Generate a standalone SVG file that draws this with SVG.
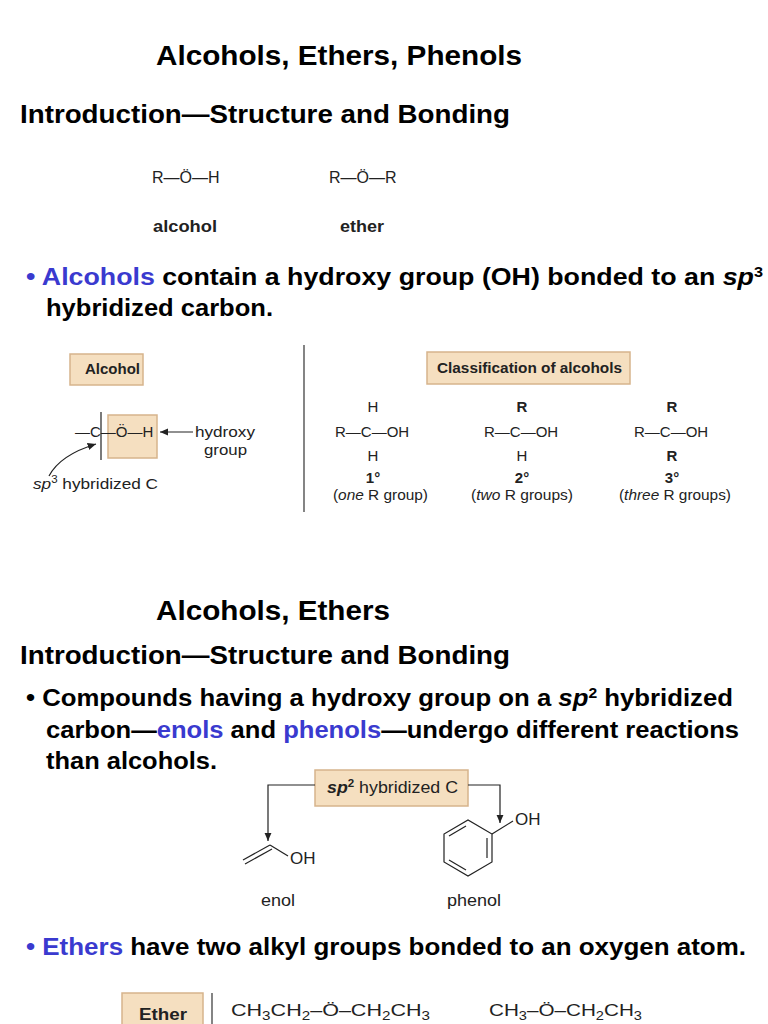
<svg xmlns="http://www.w3.org/2000/svg" width="768" height="1024" viewBox="0 0 768 1024">
<style>
text{font-family:"Liberation Sans",Arial,sans-serif;fill:#000}
.h{font-weight:bold;font-size:25px}
.b{font-weight:bold;font-size:23px}
.bl{fill:#3a3acf}
.s{font-size:16px;fill:#222}
.m{font-size:15px;fill:#222}
.box{fill:#f5dfc0;stroke:#d6b48c;stroke-width:1.5}
.ln{stroke:#222;stroke-width:1.2;fill:none}
</style>
<defs><marker id="ar" markerWidth="8" markerHeight="8" refX="7" refY="4" orient="auto"><path d="M0,1 L7,4 L0,7z" fill="#222"/></marker></defs>
<rect width="768" height="1024" fill="#fff"/>
<text x="156" y="65" textLength="366" lengthAdjust="spacingAndGlyphs" style="font-weight:bold;font-size:28px">Alcohols, Ethers, Phenols</text>
<text x="20" y="123" class="h" textLength="490" lengthAdjust="spacingAndGlyphs">Introduction—Structure and Bonding</text>
<text x="152" y="183" class="s">R—Ö—H</text>
<text x="329" y="183" class="s">R—Ö—R</text>
<text x="153" y="232" textLength="64" lengthAdjust="spacingAndGlyphs" style="font-size:16px;font-weight:bold;fill:#222">alcohol</text>
<text x="340" y="232" textLength="44" lengthAdjust="spacingAndGlyphs" style="font-size:16px;font-weight:bold;fill:#222">ether</text>
<text x="26" y="285" class="b" textLength="737" lengthAdjust="spacingAndGlyphs"><tspan class="bl">• Alcohols</tspan> contain a hydroxy group (OH) bonded to an <tspan font-style="italic">sp</tspan><tspan font-size="14" dy="-8">3</tspan></text>
<text x="46" y="316" class="b" textLength="227" lengthAdjust="spacingAndGlyphs">hybridized carbon.</text>
<g id="alcoholbox"><rect class="box" x="70" y="354" width="73" height="31"/><text x="85" y="374" textLength="55" lengthAdjust="spacingAndGlyphs" style="font-size:15px;font-weight:bold;fill:#222">Alcohol</text></g>
<line x1="304" y1="345" x2="304" y2="512" stroke="#333" stroke-width="1.2"/>
<g id="classbox"><rect class="box" x="427" y="352" width="203" height="32"/><text x="437" y="373" textLength="185" lengthAdjust="spacingAndGlyphs" style="font-size:15px;font-weight:bold;fill:#222">Classification of alcohols</text></g>
<g id="hydroxy">
<rect class="box" x="108" y="415" width="49" height="43"/>
<line class="ln" x1="101" y1="412" x2="101" y2="460"/>
<text x="75" y="437" class="m">—C—Ö—H</text>
<line class="ln" x1="193" y1="432" x2="160" y2="432" marker-end="url(#ar)"/>
<text x="195" y="437" class="m" textLength="60" lengthAdjust="spacingAndGlyphs">hydroxy</text>
<text x="204" y="455" class="m" textLength="43" lengthAdjust="spacingAndGlyphs">group</text>
<path class="ln" d="M49,476 Q60,455 96,444" marker-end="url(#ar)"/>
<text x="33" y="489" class="m" textLength="125" lengthAdjust="spacingAndGlyphs"><tspan font-style="italic">sp</tspan><tspan font-size="10" dy="-6">3</tspan><tspan dy="6"> hybridized C</tspan></text>
</g>
<g id="c1">
<text x="373" y="412" text-anchor="middle" class="m">H</text>
<text x="335" y="437" class="m">R—C—OH</text>
<text x="373" y="461" text-anchor="middle" class="m">H</text>
<text x="373" y="483" text-anchor="middle" class="m" font-weight="bold">1°</text>
<text x="333" y="500" class="m" textLength="95" lengthAdjust="spacingAndGlyphs">(<tspan font-style="italic">one</tspan> R group)</text>
</g>
<g id="c2">
<text x="522" y="412" text-anchor="middle" class="m" font-weight="bold">R</text>
<text x="484" y="437" class="m">R—C—OH</text>
<text x="522" y="461" text-anchor="middle" class="m">H</text>
<text x="522" y="483" text-anchor="middle" class="m" font-weight="bold">2°</text>
<text x="471" y="500" class="m" textLength="102" lengthAdjust="spacingAndGlyphs">(<tspan font-style="italic">two</tspan> R groups)</text>
</g>
<g id="c3">
<text x="672" y="412" text-anchor="middle" class="m" font-weight="bold">R</text>
<text x="634" y="437" class="m">R—C—OH</text>
<text x="672" y="461" text-anchor="middle" class="m" font-weight="bold">R</text>
<text x="672" y="483" text-anchor="middle" class="m" font-weight="bold">3°</text>
<text x="619" y="500" class="m" textLength="112" lengthAdjust="spacingAndGlyphs">(<tspan font-style="italic">three</tspan> R groups)</text>
</g>
<text x="156" y="620" textLength="234" lengthAdjust="spacingAndGlyphs" style="font-weight:bold;font-size:27px">Alcohols, Ethers</text>
<text x="20" y="664" class="h" textLength="490" lengthAdjust="spacingAndGlyphs">Introduction—Structure and Bonding</text>
<text x="26" y="706" class="b" textLength="707" lengthAdjust="spacingAndGlyphs">• Compounds having a hydroxy group on a <tspan font-style="italic">sp</tspan><tspan font-size="14" dy="-8">2</tspan><tspan dy="8"> hybridized</tspan></text>
<text x="46" y="738" class="b" textLength="693" lengthAdjust="spacingAndGlyphs">carbon—<tspan class="bl">enols</tspan> and <tspan class="bl">phenols</tspan>—undergo different reactions</text>
<text x="46" y="769" class="b" textLength="171" lengthAdjust="spacingAndGlyphs">than alcohols.</text>
<g id="sp2box"><rect class="box" x="315" y="770" width="153" height="36"/><text x="327" y="793" textLength="131" lengthAdjust="spacingAndGlyphs" style="font-size:17px;fill:#222"><tspan font-weight="bold" font-style="italic">sp</tspan><tspan font-size="11" dy="-6" font-weight="bold">2</tspan><tspan dy="6"> hybridized C</tspan></text></g>
<g id="connectors">
<path class="ln" d="M315,785 H268 V841" marker-end="url(#ar)"/>
<path class="ln" d="M468,785 H500 V823" marker-end="url(#ar)"/>
</g>
<g id="enol">
<line class="ln" x1="243" y1="860" x2="270" y2="845"/><line class="ln" x1="245" y1="864" x2="272" y2="849"/>
<line class="ln" x1="270" y1="845" x2="288" y2="856"/>
<text x="290" y="864" style="font-size:17px;fill:#222">OH</text>
<text x="261" y="906" class="s" textLength="34" lengthAdjust="spacingAndGlyphs">enol</text>
</g>
<g id="phenol">
<polygon class="ln" points="492,834 492,862 468,876 444,862 444,834 468,820"/>
<line class="ln" x1="487" y1="838" x2="487" y2="858"/><line class="ln" x1="466" y1="870" x2="449" y2="860"/><line class="ln" x1="449" y1="836" x2="466" y2="826"/>
<line class="ln" x1="492" y1="834" x2="513" y2="821"/>
<text x="515" y="825" style="font-size:17px;fill:#222">OH</text>
<text x="447" y="906" class="s" textLength="54" lengthAdjust="spacingAndGlyphs">phenol</text>
</g>
<text x="26" y="955" class="b" textLength="720" lengthAdjust="spacingAndGlyphs"><tspan class="bl">• Ethers</tspan> have two alkyl groups bonded to an oxygen atom.</text>
<g id="etherbox"><rect class="box" x="122" y="993" width="81" height="40"/><text x="139" y="1020" textLength="48" lengthAdjust="spacingAndGlyphs" style="font-size:17px;font-weight:bold;fill:#222">Ether</text></g>
<line x1="212" y1="993" x2="212" y2="1024" stroke="#333" stroke-width="1.2"/>
<text x="231" y="1016" textLength="199" lengthAdjust="spacingAndGlyphs" style="font-size:17px;fill:#222">CH<tspan font-size="12" dy="4">3</tspan><tspan dy="-4">CH</tspan><tspan font-size="12" dy="4">2</tspan><tspan dy="-4">–Ö–CH</tspan><tspan font-size="12" dy="4">2</tspan><tspan dy="-4">CH</tspan><tspan font-size="12" dy="4">3</tspan></text>
<text x="489" y="1016" textLength="153" lengthAdjust="spacingAndGlyphs" style="font-size:17px;fill:#222">CH<tspan font-size="12" dy="4">3</tspan><tspan dy="-4">–Ö–CH</tspan><tspan font-size="12" dy="4">2</tspan><tspan dy="-4">CH</tspan><tspan font-size="12" dy="4">3</tspan></text>
</svg>
